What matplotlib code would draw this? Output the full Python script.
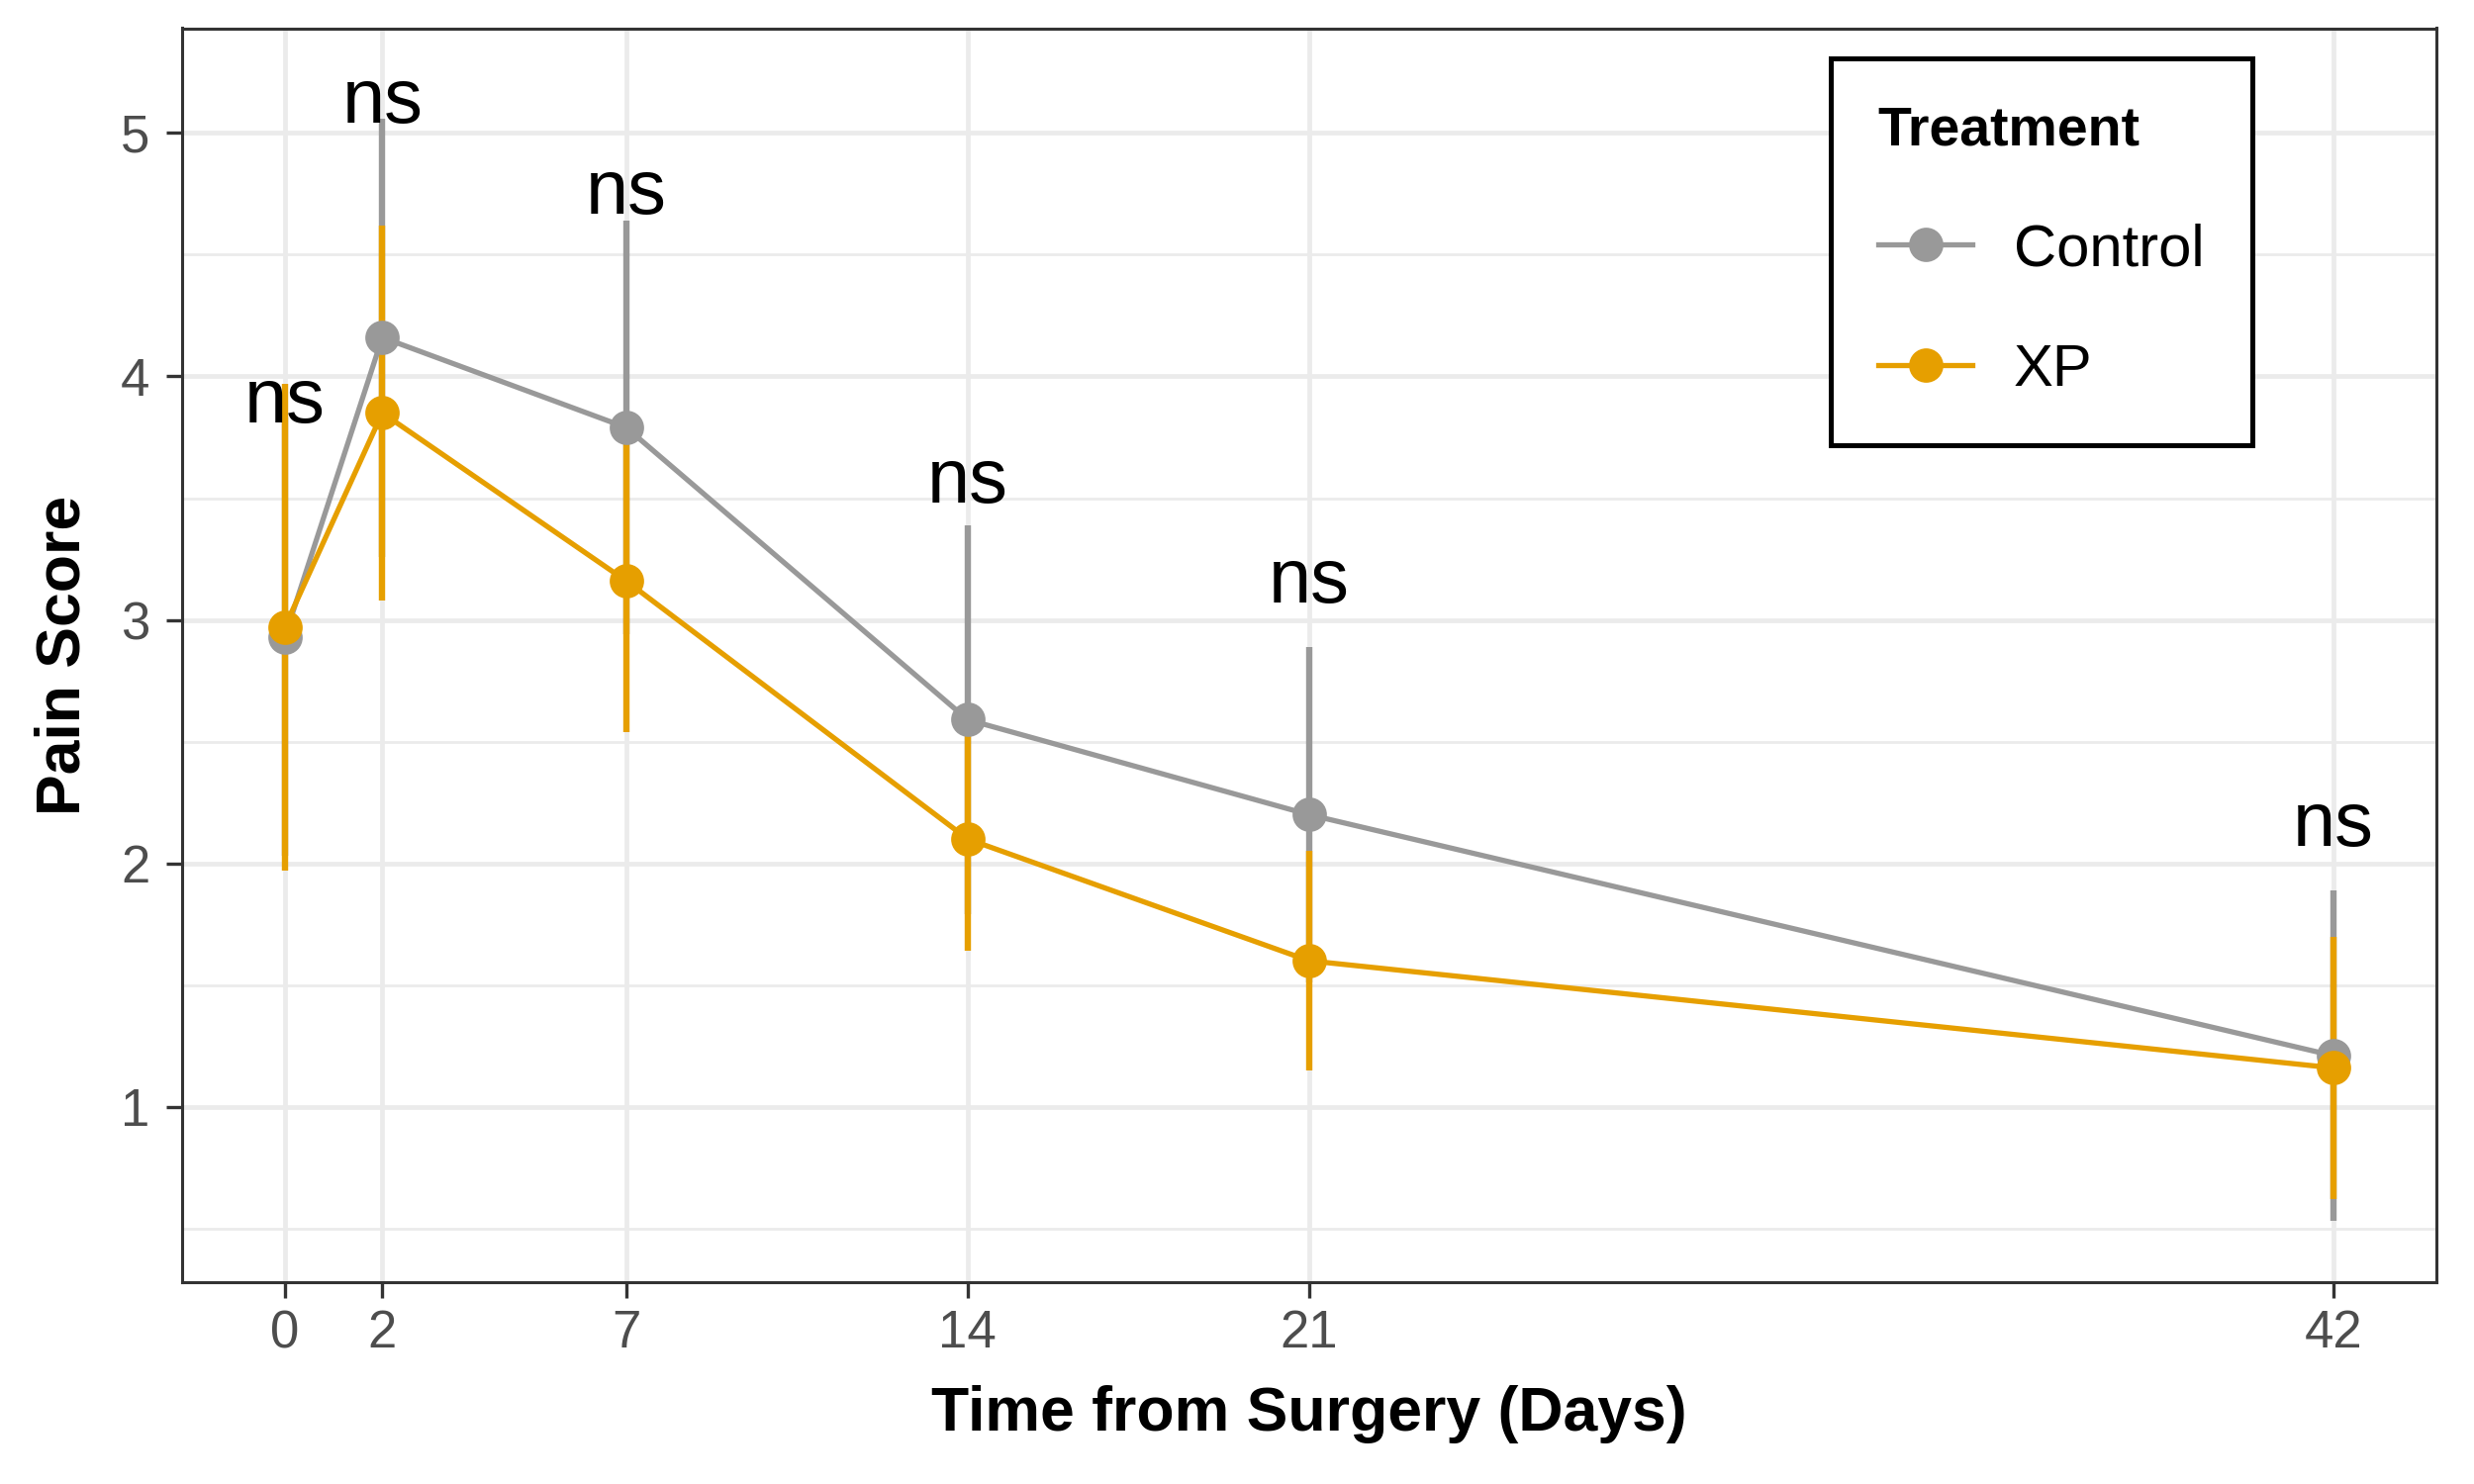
import matplotlib
matplotlib.use('Agg')
import matplotlib.pyplot as plt
from matplotlib.lines import Line2D
from matplotlib.ticker import MultipleLocator
import numpy as np

# ---------------- data ----------------
days = [0, 2, 7, 14, 21, 42]
control_mean = [2.93, 4.16, 3.79, 2.59, 2.20, 1.21]
control_sd = [0.90, 0.90, 0.85, 0.80, 0.69, 0.68]
xp_mean = [2.97, 3.85, 3.16, 2.10, 1.60, 1.16]
xp_sd = [1.00, 0.77, 0.62, 0.46, 0.45, 0.54]
sig_labels = ['ns', 'ns', 'ns', 'ns', 'ns', 'ns']
sig_label_y = [3.81, 5.04, 4.67, 3.48, 3.07, 2.07]
y_ticks = [1, 2, 3, 4, 5]
group_names = ['Control', 'XP']

# ---------------- style ----------------
plt.rcParams['font.family'] = ['Liberation Sans', 'DejaVu Sans']
c_control = '#999999'
c_xp = '#E69F00'

fig = plt.figure(figsize=(12.5, 7.5), dpi=200)
ax = fig.add_axes([0.0737, 0.136, 0.9109, 0.845])

series = [
    (control_mean, control_sd, c_control, 0.0),
    (xp_mean, xp_sd, c_xp, 0.1),
]
handles = []
for mean, sd, col, dz in series:
    m = np.array(mean)
    s = np.array(sd)
    ax.vlines(days, m - s, m + s, color=col, lw=2.3, zorder=2 + dz)
    ax.plot(days, m, color=col, lw=1.9, zorder=3 + dz, solid_capstyle='butt')
    ax.plot(days, m, 'o', color=col, ms=11.5, mec=col, zorder=4 + dz)
    handles.append(Line2D([], [], color=col, lw=1.9, marker='o', ms=11.5, mec=col))

for d, lab, yl in zip(days, sig_labels, sig_label_y):
    ax.text(d, yl, lab, ha='center', va='baseline', fontsize=28, color='black', zorder=6)

ax.set_xlim(-2.1, 44.1)
ax.set_ylim(0.28, 5.43)
ax.set_xticks(days)
ax.set_xticklabels([str(d) for d in days])
ax.set_yticks(y_ticks)
ax.yaxis.set_minor_locator(MultipleLocator(0.5))
ax.tick_params(axis='both', which='major', length=5.8, width=1.2, color='#333333',
               labelcolor='#4D4D4D', labelsize=19)
ax.tick_params(axis='x', pad=4)
ax.tick_params(axis='y', pad=6)
ax.tick_params(axis='y', which='minor', length=0)

ax.set_axisbelow(True)
ax.grid(which='major', color='#EBEBEB', lw=1.7)
ax.grid(which='minor', axis='y', color='#EBEBEB', lw=1.0)
for sp in ax.spines.values():
    sp.set_color('#333333')
    sp.set_linewidth(1.1)

ax.set_xlabel('Time from Surgery (Days)', fontsize=22.5, fontweight='bold', va='center')
ax.xaxis.set_label_coords(0.5, -0.1056)
ax.set_ylabel('Pain Score', fontsize=22.5, fontweight='bold', va='center', ha='center')
ax.yaxis.set_label_coords(-0.0528, 0.5)

leg = ax.legend(handles, group_names, title='Treatment', loc='upper left',
                bbox_to_anchor=(0.740, 0.961), bbox_transform=fig.transFigure,
                borderaxespad=0.0,
                frameon=True, fancybox=False, edgecolor='black', framealpha=1,
                fontsize=21.5, borderpad=0.8, handlelength=1.6, handletextpad=0.7,
                labelspacing=1.12, alignment='left',
                title_fontproperties={'weight': 'bold', 'size': 20})
leg.get_frame().set_linewidth(1.8)

fig.savefig('out.png', dpi=200)
